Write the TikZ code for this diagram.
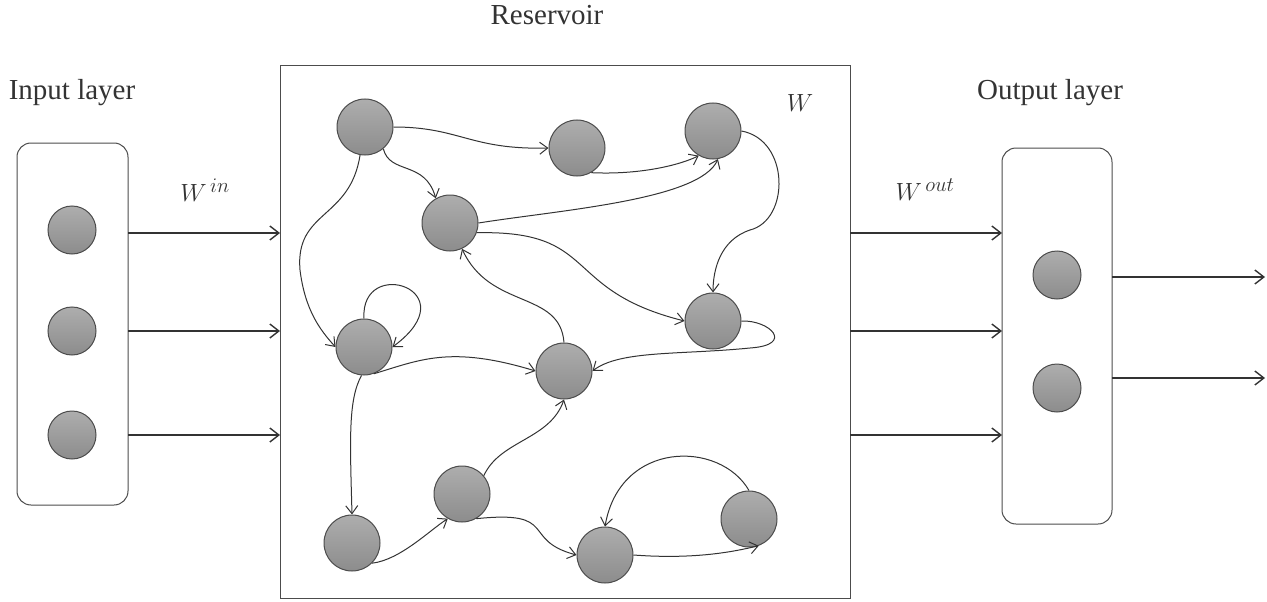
\documentclass[tikz,border=0pt]{standalone}
\usepackage{fontspec}
\setmainfont{Liberation Serif}
\usetikzlibrary{arrows.meta}
\begin{document}
\begin{tikzpicture}[x=1pt,y=-1pt,
  n/.style={circle,draw=black!70,line width=1pt,top color=black!32,bottom color=black!45,minimum size=56pt,inner sep=0pt},
  m/.style={circle,draw=black!70,line width=1pt,top color=black!32,bottom color=black!45,minimum size=48pt,inner sep=0pt},
  e/.style={draw=black!80,line width=1pt,-{Straight Barb[length=8pt,width=12pt]}},
  big/.style={-{Straight Barb[length=9pt,width=14pt]},line width=1.4pt,black!80},
  lab/.style={font=\fontsize{29}{33}\selectfont,text=black!80}]
\useasboundingbox (0,0) rectangle (1267,602);
% boxes
\node[draw=black!70,line width=1pt,rounded corners=14pt,minimum width=111pt,minimum height=362pt,inner sep=0pt] (inbox) at (72.5,324) {};
\node[draw=black!70,line width=1pt,minimum width=570pt,minimum height=532pt,inner sep=0pt] (res) at (565,332) {};
\node[draw=black!70,line width=1pt,rounded corners=14pt,minimum width=110pt,minimum height=376pt,inner sep=0pt] (outbox) at (1057,336) {};
% labels
\node[lab] (tres) at (547,15) {Reservoir};
\node[lab] (tin) at (72,93) {Input layer};
\node[lab] (tout) at (1050,93) {Output layer};
\node[lab] (win) at (205,190) {$W^{\,in}$};
\node[lab] (wout) at (925,190) {$W^{\,out}$};
\node[lab] (w) at (800,103) {$W$};
% input/output nodes
\node[m] (i1) at (72,230) {};
\node[m] (i2) at (72,331) {};
\node[m] (i3) at (72,435) {};
\node[m] (o1) at (1057,275) {};
\node[m] (o2) at (1057,388) {};
% arrows in/out
\foreach \y in {233,331,435}{
  \coordinate (ia\y) at (128,\y); \coordinate (ib\y) at (280,\y);
  \draw[big] (ia\y) -- (ib\y);
  \coordinate (oa\y) at (850,\y); \coordinate (ob\y) at (1002,\y);
  \draw[big] (oa\y) -- (ob\y);}
\foreach \y in {277,378}{
  \coordinate (pa\y) at (1112,\y); \coordinate (pb\y) at (1265,\y);
  \draw[big] (pa\y) -- (pb\y);}
% reservoir nodes
\node[n] (A) at (365,127) {};
\node[n] (B) at (577,148) {};
\node[n] (C) at (713,131) {};
\node[n] (D) at (450,223) {};
\node[n] (E) at (713,321) {};
\node[n] (F) at (364,347) {};
\node[n] (G) at (564,371) {};
\node[n] (H) at (462,494) {};
\node[n] (I) at (352,543) {};
\node[n] (J) at (605,555) {};
\node[n] (K) at (749,519) {};
% edges
\draw[e] (A.east) .. controls (460,127) and (470,150) .. (B.west);
\draw[e] (B.-60) .. controls (640,175) and (680,165) .. (C.-120);
\draw[e] (D.east) .. controls (560,210) and (700,200) .. (C.-80);
\draw[e] (A.-50) .. controls (390,175) and (425,160) .. (D.120);
\draw[e] (A.-100) .. controls (350,220) and (295,210) .. (300,270) .. controls (305,310) and (320,330) .. (F.west);
\draw[e] (C.east) .. controls (790,140) and (790,220) .. (750,230) .. controls (720,240) and (713,270) .. (E.north);
\draw[e] (D.-20) .. controls (600,230) and (560,290) .. (E.west);
\draw[e] (E.east) .. controls (770,320) and (795,345) .. (750,348) .. controls (680,355) and (620,350) .. (G.east);
\draw[e] (F.north) .. controls (360,255) and (470,290) .. (F.east);
\draw[e] (F.-70) .. controls (420,360) and (450,345) .. (G.west);
\draw[e] (G.north) .. controls (560,290) and (490,310) .. (D.-65);
\draw[e] (F.-95) .. controls (348,400) and (350,440) .. (I.north);
\draw[e] (I.-45) .. controls (400,560) and (430,530) .. (H.-120);
\draw[e] (H.40) .. controls (500,440) and (550,440) .. (G.south);
\draw[e] (H.-60) .. controls (560,510) and (520,540) .. (J.west);
\draw[e] (K.north) .. controls (720,440) and (620,440) .. (J.north);
\draw[e] (J.east) .. controls (700,560) and (740,550) .. (K.-70);
\end{tikzpicture}
\end{document}
